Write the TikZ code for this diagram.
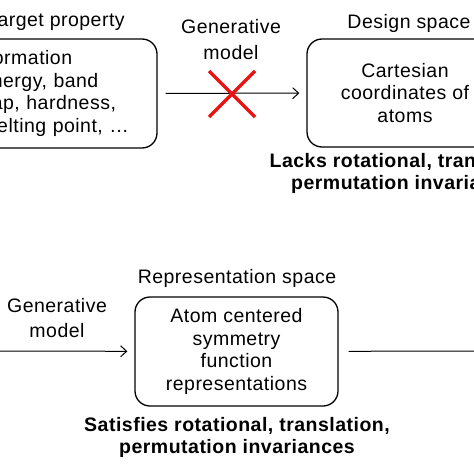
\documentclass[tikz,border=0pt]{standalone}
\usepackage{fontspec}
\setmainfont{Liberation Sans}[LetterSpace=2.5]
\usetikzlibrary{arrows.meta}
\definecolor{xred}{RGB}{232,20,20}
\begin{document}
\begin{tikzpicture}[x=1pt,y=-1pt,
  txt/.style={font=\fontsize{19.5}{22.5}\selectfont, inner sep=0pt, align=center},
  lbl/.style={font=\fontsize{19.5}{25.5}\selectfont, inner sep=0pt, align=center},
  boldtxt/.style={font=\bfseries\fontsize{19.5}{22}\selectfont, inner sep=0pt, align=center},
  box/.style={draw, rounded corners=15pt, line width=1.3pt, inner sep=0pt,
    font=\fontsize{19.5}{22.5}\selectfont, align=center},
  conn/.style={line width=1pt, -{Straight Barb[length=6pt,width=11pt,line width=1pt]}},
  plain/.style={line width=1pt},
  cross/.style={draw=xred, line width=3.2pt}
]
\useasboundingbox (0,0) rectangle (474,474);
\clip (0,0) rectangle (474,474);

% top row
\node[box, minimum width=202pt, minimum height=109pt, text width=151pt, align=left]
  (tl) at (56,93.5) {Formation\\energy, band\\gap, hardness,\\melting point, \dots};
\node[txt] (tllabel) at (56,22) {Target property};

\node[box, minimum width=196pt, minimum height=108pt] (tr) at (405,93)
  {Cartesian\\coordinates of\\atoms};
\node[txt] (trlabel) at (409,23) {Design space};

\node[lbl] (gm1) at (231,39.5) {Generative\\model};
\draw[conn, shorten <=8pt, shorten >=7pt] (tl) -- (tr);

\coordinate (cr) at (232,94);
\draw[cross] ([shift={(-23,-23)}]cr) -- ([shift={(23,23)}]cr);
\draw[cross] ([shift={(23,-23)}]cr) -- ([shift={(-23,23)}]cr);

\node[boldtxt] (lacks) at (409,173) {Lacks rotational, translation,\\permutation invariances};

% bottom row
\node[box, minimum width=203pt, minimum height=109pt] (bm) at (236.5,351.5)
  {Atom centered\\symmetry\\function\\representations};
\node[txt] (bmlabel) at (237,278) {Representation space};

\node[lbl] (gm2) at (57,318) {Generative\\model};
\coordinate (lin) at (-20,351);
\coordinate (rout) at (500,351);
\draw[conn, shorten >=7pt] (lin) -- (bm);
\draw[plain, shorten <=10pt] (bm) -- (rout);

\node[boldtxt] (sat) at (237,437.5) {Satisfies rotational, translation,\\permutation invariances};
\end{tikzpicture}
\end{document}
